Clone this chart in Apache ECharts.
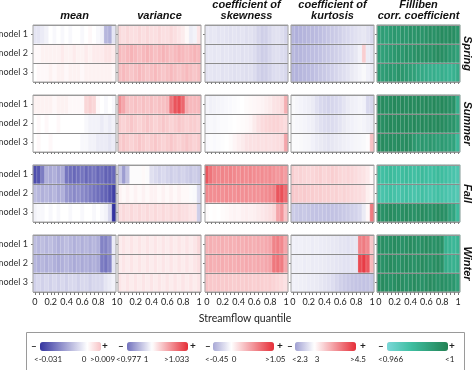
<!DOCTYPE html>
<html><head><meta charset="utf-8">
<script src="https://cdn.jsdelivr.net/npm/echarts@6/dist/echarts.min.js"></script>
<style>html,body{margin:0;padding:0;background:#fff}#c{width:474px;height:370px}</style>
</head><body><div id="c"></div>
<script>
const quantiles = ['0','0.05','0.1','0.15','0.2','0.25','0.3','0.35','0.4','0.45','0.5','0.55','0.6','0.65','0.7','0.75','0.8','0.85','0.9','0.95','1'];
const models = ['model 1','model 2','model 3'];
const seasons = ['Spring','Summer','Fall','Winter'];
const metricTitles = ['mean','variance','coefficient of\nskewness','coefficient of\nkurtosis','Filliben\ncorr. coefficient'];
const scaleMin = [-0.031, 0.977, -0.45, 2.3, 0.966];
const scaleMax = [0.009, 1.033, 1.05, 4.5, 1];
const scaleCenter = [0, 1, 0, 3, null];
const legendLabels = [['<-0.031','0','>0.009'],['<0.977','1','>1.033'],['<-0.45','0','>1.05'],['<2.3','3','>4.5'],['<0.966','','<1']];

// ---- mean ----
const mean_spring = [
 [-0.004,-0.004,-0.003,-0.002,0.000,-0.001,0.000,-0.001,0.000,-0.001,0.000,0.000,-0.001,0.000,0.001,0.000,-0.001,-0.002,-0.011,-0.012,-0.004],
 [0.001,0.001,0.002,0.002,0.002,0.002,0.002,0.003,0.002,0.002,0.003,0.002,0.002,0.003,0.002,0.003,0.003,0.003,0.004,0.004,0.003],
 [0.000,0.001,0.001,0.001,0.002,0.001,0.002,0.002,0.001,0.002,0.002,0.002,0.001,0.002,0.002,0.002,0.002,0.002,0.002,0.002,0.001]];
const mean_summer = [
 [0.002,0.002,0.002,0.002,0.002,0.001,0.002,0.002,0.002,0.001,0.001,0.001,0.001,0.006,0.007,0.006,0.001,0.000,-0.001,0.000,-0.001],
 [0.000,0.001,0.000,0.001,0.000,0.000,0.001,0.000,0.000,0.000,0.000,0.000,0.000,-0.001,-0.002,-0.002,-0.002,-0.003,-0.002,-0.003,-0.002],
 [0.000,0.001,0.000,0.000,0.001,0.000,0.000,0.000,0.000,0.000,0.000,0.000,-0.001,-0.001,-0.002,-0.002,-0.003,-0.003,-0.003,-0.004,-0.003]];
const mean_fall = [
 [-0.027,-0.026,-0.020,-0.012,-0.013,-0.012,-0.014,-0.013,-0.021,-0.022,-0.023,-0.022,-0.021,-0.023,-0.022,-0.021,-0.023,-0.022,-0.024,-0.024,-0.023],
 [-0.010,-0.011,-0.012,-0.011,-0.012,-0.011,-0.013,-0.012,-0.016,-0.017,-0.018,-0.017,-0.018,-0.019,-0.020,-0.021,-0.022,-0.023,-0.024,-0.026,-0.029],
 [-0.002,-0.001,-0.001,0.000,-0.001,0.000,-0.001,0.000,0.000,-0.001,0.000,0.000,-0.001,0.000,0.000,-0.001,0.000,-0.001,-0.002,-0.006,-0.031]];
const mean_winter = [
 [-0.010,-0.011,-0.010,-0.011,-0.010,-0.011,-0.012,-0.011,-0.010,-0.011,-0.012,-0.011,-0.012,-0.011,-0.012,-0.011,-0.012,-0.019,-0.019,-0.017,-0.003],
 [-0.011,-0.012,-0.011,-0.012,-0.011,-0.012,-0.013,-0.012,-0.011,-0.012,-0.013,-0.012,-0.013,-0.012,-0.013,-0.012,-0.013,-0.020,-0.021,-0.019,-0.004],
 [-0.007,-0.006,-0.007,-0.006,-0.007,-0.006,-0.007,-0.006,-0.007,-0.006,-0.006,-0.007,-0.006,-0.006,-0.007,-0.006,-0.006,-0.006,-0.004,-0.003,-0.002]];
// ---- variance ----
const var_spring = [
 [1.006,1.005,1.006,1.005,1.005,1.006,1.005,1.006,1.005,1.005,1.006,1.005,1.005,1.006,1.005,1.004,1.003,1.001,0.997,0.998,1.004],
 [1.011,1.010,1.011,1.012,1.011,1.010,1.011,1.012,1.011,1.010,1.011,1.012,1.011,1.010,1.011,1.012,1.011,1.010,1.011,1.012,1.011],
 [1.010,1.011,1.010,1.009,1.010,1.011,1.010,1.009,1.010,1.011,1.010,1.009,1.010,1.011,1.010,1.009,1.010,1.011,1.010,1.009,1.010]];
const var_summer = [
 [1.017,1.014,1.010,1.009,1.010,1.009,1.010,1.009,1.010,1.009,1.010,1.010,1.011,1.022,1.027,1.028,1.024,1.013,1.011,1.011,1.011],
 [1.008,1.007,1.008,1.009,1.008,1.007,1.008,1.009,1.008,1.007,1.008,1.009,1.008,1.007,1.008,1.009,1.008,1.007,1.008,1.008,1.007],
 [1.008,1.009,1.008,1.007,1.008,1.009,1.008,1.007,1.008,1.009,1.008,1.007,1.008,1.009,1.008,1.007,1.008,1.009,1.008,1.007,1.008]];
const var_fall = [
 [0.991,0.984,0.990,1.000,1.000,1.000,1.001,1.000,0.995,0.994,0.993,0.994,0.993,0.992,0.993,0.992,0.993,0.992,0.991,0.992,0.991],
 [1.002,1.001,1.002,1.001,1.002,1.001,1.002,1.001,1.002,1.002,1.001,1.002,1.001,1.002,1.001,1.002,1.001,1.001,1.000,0.999,0.994],
 [1.005,1.006,1.005,1.006,1.005,1.006,1.005,1.006,1.005,1.006,1.005,1.006,1.005,1.006,1.005,1.006,1.005,1.005,1.004,1.004,0.992]];
const var_winter = [
 [1.003,1.004,1.003,1.004,1.003,1.004,1.003,1.004,1.003,1.004,1.003,1.004,1.003,1.004,1.003,1.004,1.003,1.004,1.003,1.004,1.006],
 [1.003,1.004,1.003,1.004,1.003,1.004,1.003,1.004,1.003,1.004,1.003,1.004,1.003,1.004,1.003,1.004,1.003,1.004,1.003,1.004,1.005],
 [1.004,1.003,1.004,1.003,1.004,1.003,1.004,1.003,1.004,1.003,1.004,1.003,1.004,1.003,1.004,1.003,1.004,1.003,1.004,1.003,1.004]];
// ---- skewness ----
const skew_spring = [
 [-0.12,-0.13,-0.12,-0.14,-0.13,-0.14,-0.15,-0.14,-0.15,-0.14,-0.16,-0.15,-0.17,-0.22,-0.25,-0.24,-0.20,-0.16,-0.15,-0.17,-0.22],
 [-0.13,-0.12,-0.13,-0.12,-0.14,-0.13,-0.14,-0.15,-0.14,-0.16,-0.15,-0.16,-0.18,-0.23,-0.26,-0.25,-0.21,-0.17,-0.16,-0.18,-0.20],
 [-0.14,-0.13,-0.14,-0.13,-0.15,-0.14,-0.15,-0.16,-0.15,-0.16,-0.17,-0.16,-0.19,-0.24,-0.26,-0.25,-0.22,-0.18,-0.17,-0.18,-0.21]];
const skew_summer = [
 [-0.06,-0.08,-0.07,-0.06,-0.05,-0.04,-0.03,-0.02,-0.01,0.00,0.02,0.03,0.04,0.05,0.06,0.08,0.10,0.14,0.15,0.18,0.40],
 [-0.05,-0.04,-0.05,-0.03,-0.02,-0.02,-0.01,0.00,0.01,0.02,0.03,0.05,0.10,0.15,0.18,0.20,0.21,0.22,0.22,0.20,0.18],
 [-0.03,-0.02,-0.03,-0.02,-0.01,0.00,0.02,0.05,0.08,0.10,0.14,0.15,0.15,0.16,0.15,0.16,0.15,0.16,0.17,0.18,0.45]];
const skew_fall = [
 [0.85,0.70,0.62,0.60,0.62,0.60,0.62,0.60,0.58,0.60,0.58,0.60,0.58,0.57,0.58,0.56,0.58,0.55,0.52,0.55,0.50],
 [0.60,0.58,0.57,0.58,0.56,0.58,0.57,0.56,0.58,0.56,0.57,0.55,0.56,0.55,0.57,0.58,0.60,0.62,0.85,0.88,0.75],
 [0.02,0.00,0.01,0.00,0.02,0.03,0.05,0.06,0.05,0.07,0.08,0.07,0.08,0.10,0.12,0.14,0.16,0.20,0.45,0.55,0.30]];
const skew_winter = [
 [0.38,0.40,0.38,0.39,0.40,0.38,0.40,0.39,0.41,0.40,0.42,0.41,0.40,0.42,0.41,0.43,0.45,0.62,0.65,0.60,0.45],
 [0.39,0.41,0.39,0.40,0.41,0.39,0.41,0.40,0.42,0.41,0.43,0.42,0.41,0.43,0.42,0.44,0.46,0.68,0.70,0.66,0.45],
 [0.30,0.28,0.27,0.28,0.26,0.27,0.26,0.25,0.26,0.25,0.26,0.25,0.24,0.25,0.24,0.23,0.24,0.22,0.20,0.18,0.15]];
// ---- kurtosis ----
const kurt_spring = [
 [2.45,2.42,2.44,2.45,2.47,2.48,2.50,2.52,2.55,2.58,2.60,2.62,2.65,2.70,2.72,2.75,2.78,2.80,2.82,2.78,2.72],
 [2.48,2.45,2.46,2.48,2.50,2.52,2.53,2.55,2.58,2.60,2.62,2.65,2.68,2.72,2.75,2.78,2.82,2.90,3.35,2.85,2.80],
 [2.45,2.44,2.46,2.48,2.50,2.52,2.55,2.58,2.60,2.63,2.66,2.70,2.73,2.76,2.80,2.84,2.88,2.92,2.95,2.90,2.85]];
const kurt_summer = [
 [2.95,2.93,2.92,2.90,2.88,2.85,2.78,2.72,2.70,2.68,2.70,2.72,2.75,2.80,2.85,2.88,2.90,2.92,2.90,2.72,2.70],
 [2.95,2.94,2.93,2.92,2.90,2.88,2.82,2.78,2.75,2.73,2.74,2.76,2.80,2.84,2.88,2.90,2.92,2.93,2.92,2.88,2.85],
 [2.97,2.96,2.95,2.94,2.93,2.90,2.86,2.84,2.82,2.80,2.82,2.84,2.86,2.88,2.90,2.92,2.93,2.94,2.95,3.00,3.45]];
const kurt_fall = [
 [3.35,3.30,3.32,3.30,3.28,3.30,3.32,3.34,3.30,3.32,3.35,3.33,3.30,3.28,3.30,3.28,3.25,3.22,3.20,3.15,3.05],
 [3.40,3.38,3.36,3.38,3.35,3.36,3.34,3.35,3.33,3.34,3.32,3.33,3.30,3.32,3.30,3.28,3.26,3.25,3.22,3.12,3.08],
 [2.62,2.60,2.58,2.60,2.58,2.56,2.55,2.56,2.55,2.54,2.55,2.56,2.58,2.60,2.62,2.65,2.68,2.72,2.85,3.05,3.95]];
const kurt_winter = [
 [2.90,2.88,2.89,2.87,2.88,2.86,2.87,2.86,2.85,2.84,2.83,2.82,2.80,2.80,2.79,2.80,2.82,3.90,3.95,3.85,3.40],
 [2.89,2.87,2.88,2.86,2.87,2.85,2.86,2.85,2.84,2.83,2.82,2.81,2.80,2.79,2.79,2.80,2.82,4.30,4.40,4.20,3.50],
 [2.90,2.89,2.88,2.87,2.86,2.85,2.84,2.82,2.80,2.78,2.75,2.70,2.65,2.62,2.60,2.58,2.57,2.56,2.55,2.56,2.58]];
// ---- Filliben ----
const fill_spring = [
 [0.990,0.991,0.990,0.992,0.993,0.992,0.994,0.993,0.995,0.994,0.995,0.994,0.995,0.996,0.995,0.996,0.997,0.996,0.997,0.996,0.994],
 [0.991,0.990,0.991,0.992,0.993,0.994,0.993,0.995,0.994,0.995,0.996,0.995,0.996,0.995,0.996,0.997,0.996,0.995,0.993,0.992,0.990],
 [0.992,0.991,0.992,0.993,0.992,0.994,0.993,0.992,0.991,0.990,0.988,0.987,0.986,0.985,0.985,0.984,0.985,0.984,0.983,0.984,0.986]];
const fill_summer = [
 [0.996,0.997,0.996,0.997,0.998,0.997,0.998,0.997,0.998,0.997,0.998,0.997,0.998,0.997,0.998,0.997,0.998,0.997,0.996,0.995,0.985],
 [0.997,0.996,0.997,0.998,0.997,0.998,0.997,0.998,0.997,0.998,0.997,0.998,0.997,0.998,0.997,0.998,0.997,0.996,0.995,0.994,0.990],
 [0.996,0.997,0.996,0.997,0.996,0.997,0.996,0.997,0.996,0.993,0.992,0.993,0.992,0.993,0.992,0.991,0.992,0.991,0.990,0.989,0.982]];
const fill_fall = [
 [0.980,0.979,0.980,0.981,0.980,0.979,0.980,0.981,0.980,0.979,0.980,0.981,0.980,0.979,0.980,0.981,0.980,0.979,0.978,0.977,0.976],
 [0.978,0.977,0.978,0.979,0.978,0.977,0.978,0.979,0.978,0.977,0.978,0.979,0.978,0.977,0.978,0.979,0.978,0.977,0.976,0.976,0.975],
 [0.996,0.995,0.996,0.997,0.996,0.995,0.996,0.997,0.996,0.995,0.996,0.997,0.996,0.995,0.996,0.997,0.996,0.995,0.990,0.988,0.981]];
const fill_winter = [
 [0.995,0.996,0.995,0.996,0.997,0.996,0.995,0.996,0.997,0.996,0.995,0.996,0.997,0.996,0.995,0.996,0.995,0.984,0.983,0.982,0.983],
 [0.996,0.995,0.996,0.997,0.996,0.995,0.996,0.997,0.996,0.995,0.996,0.997,0.996,0.995,0.996,0.997,0.995,0.986,0.985,0.984,0.985],
 [0.996,0.997,0.996,0.995,0.996,0.997,0.996,0.995,0.996,0.997,0.996,0.995,0.996,0.997,0.996,0.995,0.996,0.995,0.994,0.993,0.990]];

const panels = [
 [mean_spring, var_spring, skew_spring, kurt_spring, fill_spring],
 [mean_summer, var_summer, skew_summer, kurt_summer, fill_summer],
 [mean_fall, var_fall, skew_fall, kurt_fall, fill_fall],
 [mean_winter, var_winter, skew_winter, kurt_winter, fill_winter]];

// ---- layout / style ----
const gridLeft = [33, 118, 205, 291, 377];
const gridTop = [25, 95, 165, 235];
const GW = 83, GH = 57;
const barLeft = [40, 127, 213, 295, 387];
const FONT = 'Lato, "Noto Sans", sans-serif';
const TFONT = '"Liberation Sans", Arial, sans-serif';

function mix(a, b, t) { return 'rgb(' + a.map((v, i) => Math.round(v + (b[i] - v) * t)).join(',') + ')'; }
const BLUE = [52, 52, 160], WHITE = [255, 255, 255], RED = [230, 46, 56];
function divColors(min, max, center) {
  const dev = Math.max(center - min, max - center), out = [];
  for (let i = 0; i <= 40; i++) {
    const v = min + (max - min) * i / 40, t = (v - center) / dev;
    out.push(t < 0 ? mix(WHITE, BLUE, -t) : mix(WHITE, RED, t));
  }
  return out;
}
const G0 = [122, 216, 216], G1 = [62, 190, 160], G2 = [34, 130, 84];
function greenColors() {
  const out = [];
  for (let i = 0; i <= 40; i++) { const t = i / 40; out.push(t < 0.4 ? mix(G0, G1, t / 0.4) : mix(G1, G2, (t - 0.4) / 0.6)); }
  return out;
}

const grids = [], xAxes = [], yAxes = [], series = [];
seasons.forEach((season, s) => {
  metricTitles.forEach((mt, m) => {
    const idx = s * 5 + m;
    grids.push({ left: gridLeft[m], top: gridTop[s], width: GW, height: GH, show: true, z: 4,
      containLabel: false, outerBoundsMode: 'none',
      borderColor: '#a6a6a6', borderWidth: 1, backgroundColor: 'transparent' });
    xAxes.push({ type: 'category', gridIndex: idx, data: quantiles, boundaryGap: true, z: 3,
      axisLine: { show: false },
      axisTick: { show: true, interval: 0, alignWithLabel: true, length: s === 3 ? 3 : 2, lineStyle: { color: '#555', width: 0.8 } },
      axisLabel: { show: s === 3, interval: 3, fontSize: 9, color: '#222', margin: 6, fontFamily: FONT, hideOverlap: false },
      splitLine: { show: false } });
    yAxes.push({ type: 'category', gridIndex: idx, data: models, inverse: true, z: 3,
      axisLine: { show: false },
      axisTick: { show: true, alignWithLabel: true, length: 2, lineStyle: { color: '#555', width: 0.8 } },
      axisLabel: { show: m === 0, fontSize: 9, color: '#333', margin: 5, fontFamily: FONT },
      splitLine: { show: true, lineStyle: { color: '#8c8c8c', width: 1 } } });
    const d = [];
    panels[s][m].forEach((row, r) => row.forEach((v, c) => d.push([c, r, v])));
    series.push({ type: 'heatmap', xAxisIndex: idx, yAxisIndex: idx, data: d, progressive: 0,
      itemStyle: { borderColor: 'rgba(255,255,255,0.4)', borderWidth: 0.5 }, emphasis: { disabled: true } });
  });
});

const visualMaps = metricTitles.map((mt, m) => ({
  type: 'continuous', min: scaleMin[m], max: scaleMax[m], dimension: 2,
  seriesIndex: [m, 5 + m, 10 + m, 15 + m],
  inRange: { color: m === 4 ? greenColors() : divColors(scaleMin[m], scaleMax[m], scaleCenter[m]) },
  orient: 'horizontal', left: barLeft[m], top: 342, itemWidth: 9, itemHeight: 61,
  calculable: false, hoverLink: false, padding: 0, show: true
}));

const graphics = [];
metricTitles.forEach((t, m) => {
  const two = t.indexOf('\n') >= 0;
  graphics.push({ type: 'text', x: gridLeft[m] + GW / 2, y: two ? 10 : 15.5,
    style: { text: t, align: 'center', verticalAlign: 'middle', fontSize: 11, lineHeight: 11,
      fontWeight: 'bold', fontStyle: 'italic', fontFamily: TFONT, fill: '#111' } });
});
seasons.forEach((t, s) => {
  graphics.push({ type: 'text', x: 467, y: gridTop[s] + GH / 2, rotation: -Math.PI / 2,
    style: { text: t, align: 'center', verticalAlign: 'middle', fontSize: 11,
      fontWeight: 'bold', fontStyle: 'italic', fontFamily: TFONT, fill: '#111' } });
});
graphics.push({ type: 'text', x: 245, y: 319,
  style: { text: 'Streamflow quantile', align: 'center', verticalAlign: 'middle', fontSize: 10.5, fontFamily: FONT, fill: '#222' } });
graphics.push({ type: 'rect', shape: { x: 26.5, y: 332.5, width: 438, height: 50 },
  style: { fill: 'none', stroke: '#9a9a9a', lineWidth: 1 } });
const minusX = [34, 121, 208, 290, 381], plusX = [105, 193, 280, 363, 452];
const labelPos = [[34, 84, 90], [116, 146, 164], [205, 234, 265], [292, 317, 350], [378, 0, 445]];
metricTitles.forEach((t, m) => {
  graphics.push({ type: 'text', x: minusX[m], y: 346, style: { text: '–', align: 'center', verticalAlign: 'middle', fontSize: 10, fontWeight: 'bold', fontFamily: FONT, fill: '#222' } });
  graphics.push({ type: 'text', x: plusX[m], y: 346, style: { text: '+', align: 'center', verticalAlign: 'middle', fontSize: 10, fontWeight: 'bold', fontFamily: FONT, fill: '#222' } });
  legendLabels[m].forEach((lab, k) => {
    if (!lab) return;
    graphics.push({ type: 'text', x: labelPos[m][k], y: 359,
      style: { text: lab, align: k === 1 ? 'center' : 'left', verticalAlign: 'middle', fontSize: 8, fontFamily: FONT, fill: '#222' } });
  });
});

const chart = echarts.init(document.getElementById('c'), null, { renderer: 'canvas' });
chart.setOption({
  animation: false,
  grid: grids, xAxis: xAxes, yAxis: yAxes, series: series,
  visualMap: visualMaps, graphic: graphics
});
</script></body></html>
